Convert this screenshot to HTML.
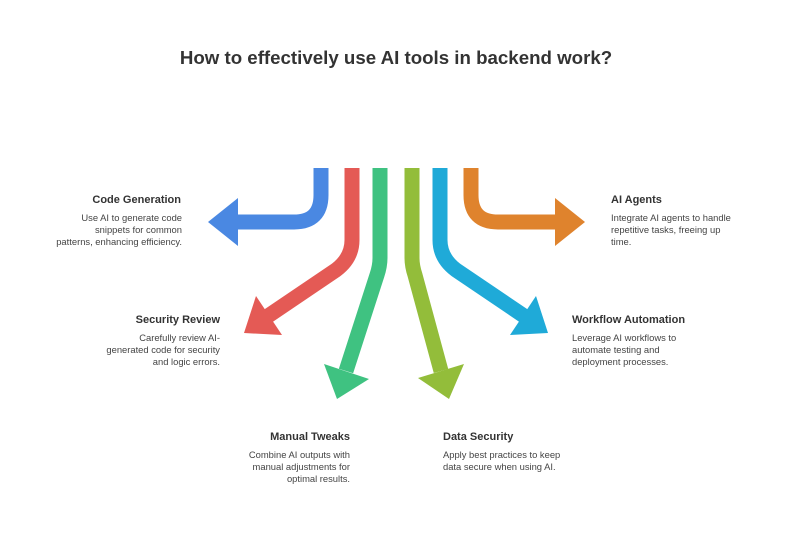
<!DOCTYPE html><html><head><style>
body{margin:0;width:792px;height:534px;background:#fff;position:relative;font-family:"Liberation Sans",sans-serif;overflow:hidden}
.t{position:absolute;font-size:11px;font-weight:bold;color:#333}
.b{position:absolute;font-size:9.4px;line-height:12px;color:#444}
.r{text-align:right}
</style></head><body>
<div style="position:absolute;left:0;width:792px;top:47px;text-align:center;font-size:18.7px;font-weight:bold;color:#333">How to effectively use AI tools in backend work?</div>
<svg width="792" height="534" style="position:absolute;left:0;top:0" fill="none" stroke-width="15">
<path d="M321,168 L321,195 Q321,222 294,222 L237,222" stroke="#4a88e2"/>
<polygon points="208,222 238,198 238,246" fill="#4a88e2"/>
<path d="M352,168 L352,240 Q352,258 336,270 L268,316" stroke="#e45a55"/>
<polygon points="244,333 282,335 256,296" fill="#e45a55"/>
<path d="M380,168 L380,258 Q380,266 377,275 L346,371" stroke="#3fc281"/>
<polygon points="337,399 369,379 324,364" fill="#3fc281"/>
<path d="M412,168 L412,258 Q412,266 415,275 L441,371" stroke="#93bd3a"/>
<polygon points="449,399 464,364 418,378" fill="#93bd3a"/>
<path d="M440,168 L440,240 Q440,258 456,270 L524,316" stroke="#1faad8"/>
<polygon points="548,333 510,335 536,296" fill="#1faad8"/>
<path d="M471,168 L471,195 Q471,222 498,222 L556,222" stroke="#df832d"/>
<polygon points="585,222 555,198 555,246" fill="#df832d"/>
</svg>
<div class="t r" style="right:611px;top:194px">Code Generation</div>
<div class="b r" style="right:610px;top:212px">Use AI to generate code<br>snippets for common<br>patterns, enhancing efficiency.</div>
<div class="t" style="left:611px;top:194px">AI Agents</div>
<div class="b" style="left:611px;top:212px">Integrate AI agents to handle<br>repetitive tasks, freeing up<br>time.</div>
<div class="t r" style="right:572px;top:314px">Security Review</div>
<div class="b r" style="right:572px;top:332px">Carefully review AI-<br>generated code for security<br>and logic errors.</div>
<div class="t" style="left:572px;top:314px">Workflow Automation</div>
<div class="b" style="left:572px;top:332px">Leverage AI workflows to<br>automate testing and<br>deployment processes.</div>
<div class="t r" style="right:442px;top:431px">Manual Tweaks</div>
<div class="b r" style="right:442px;top:449px">Combine AI outputs with<br>manual adjustments for<br>optimal results.</div>
<div class="t" style="left:443px;top:431px">Data Security</div>
<div class="b" style="left:443px;top:449px">Apply best practices to keep<br>data secure when using AI.</div>
</body></html>
